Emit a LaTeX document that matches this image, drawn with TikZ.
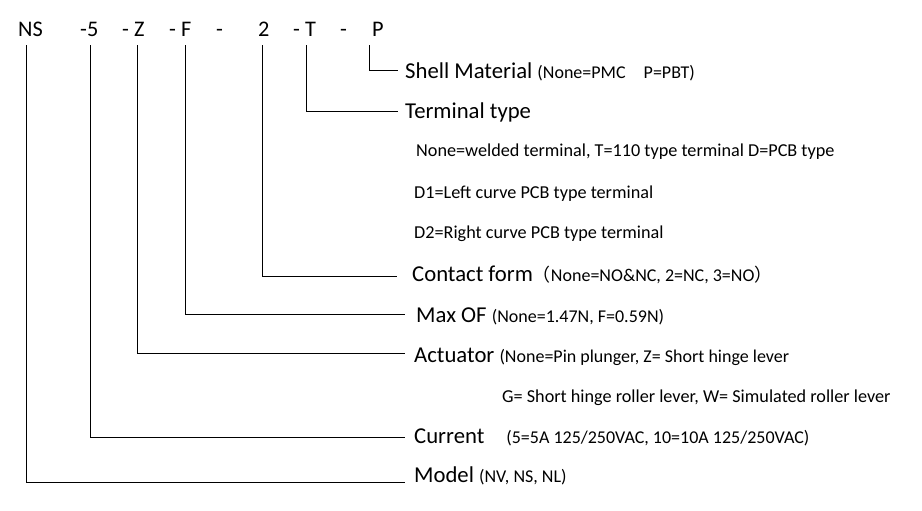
\documentclass[tikz,border=0pt]{standalone}
\usepackage{fontspec}
\setmainfont{Carlito}
\newfontfamily\cjk{Noto Sans CJK SC}
\begin{document}
\begin{tikzpicture}[x=1pt,y=-1pt,
  code/.style={anchor=base west,inner sep=0pt,font=\fontsize{22.3}{24}\selectfont},
  head/.style={anchor=base west,inner sep=0pt,font=\fontsize{22.7}{24}\selectfont},
  desc/.style={anchor=base west,inner sep=0pt,font=\fontsize{18.2}{20}\selectfont},
  conn/.style={draw=black,line width=1pt}]
\useasboundingbox (0,0) rectangle (922,511);
\fill[white] (0,0) rectangle (922,511);
\newcommand\sm{\fontsize{18}{20}\selectfont}
% codes
\node[code] (cNS) at (18,37) {NS};
\node[code] (c5) at (80,37) {-5};
\node[code] (cZ) at (122,37) {- Z};
\node[code] (cF) at (169,37) {- F};
\node[code] (cd1) at (216,37) {-};
\node[code] (c2) at (258,37) {2};
\node[code] (cT) at (293,37) {- T};
\node[code] (cd2) at (340,37) {-};
\node[code] (cP) at (372,37) {P};
% labels
\node[head] (lShell) at (405,78) {Shell Material {\sm (None=PMC\hspace{18pt}P=PBT)}};
\node[head] (lTerm) at (405,118) {Terminal type};
\node[desc] (lT1) at (416,157) {None=welded terminal, T=110 type terminal D=PCB type};
\node[desc] (lT2) at (414,198) {D1=Left curve PCB type terminal};
\node[desc] (lT3) at (414,238) {D2=Right curve PCB type terminal};
\node[head] (lContact) at (412,281) {Contact form{\sm{\cjk （}None=NO\&NC, 2=NC, 3=NO{\cjk ）}}};
\node[head] (lMax) at (416,322) {Max OF {\sm (None=1.47N, F=0.59N)}};
\node[head] (lAct) at (414,362) {Actuator {\sm (None=Pin plunger, Z= Short hinge lever}};
\node[desc] (lAct2) at (502,402) {G= Short hinge roller lever, W= Simulated roller lever};
\node[head] (lCur) at (414,443) {Current\hspace{22pt}{\sm (5=5A 125/250VAC, 10=10A 125/250VAC)}};
\node[head] (lModel) at (414,482) {Model {\sm (NV, NS, NL)}};
% connectors
\draw[conn] ([shift={(-3pt,-8pt)}]cP.south west) |- ([shift={(-7pt,7pt)}]lShell.base west);
\draw[conn] ([shift={(13pt,-8pt)}]cT.south west) |- ([shift={(-7pt,6pt)}]lTerm.base west);
\draw[conn] ([shift={(4pt,-8pt)}]c2.south west) |- ([shift={(-15pt,5pt)}]lContact.base west);
\draw[conn] ([shift={(16pt,-8pt)}]cF.south west) |- ([shift={(-11pt,8pt)}]lMax.base west);
\draw[conn] ([shift={(15pt,-8pt)}]cZ.south west) |- ([shift={(-9pt,9pt)}]lAct.base west);
\draw[conn] ([shift={(10pt,-8pt)}]c5.south west) |- ([shift={(-9pt,6pt)}]lCur.base west);
\draw[conn] ([shift={(8pt,-8pt)}]cNS.south west) |- ([shift={(-9pt,0pt)}]lModel.base west);
\end{tikzpicture}
\end{document}
